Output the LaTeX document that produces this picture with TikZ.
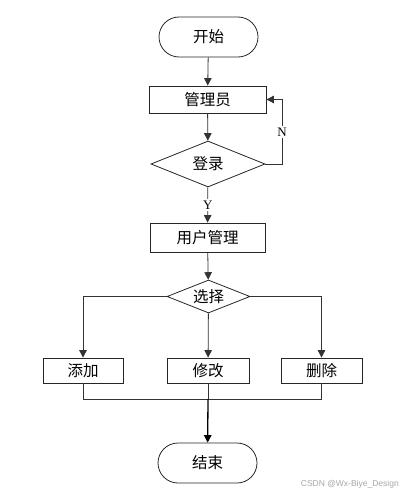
\documentclass[tikz,border=0pt]{standalone}
\usepackage{fontspec}
\setmainfont{Liberation Serif}
\newfontfamily\cjk{Noto Sans CJK SC}
\newfontfamily\wmfont{Liberation Sans}
\usetikzlibrary{shapes.geometric,arrows.meta}
\tikzset{
  base/.style={draw=black!85, line width=0.8pt, font=\cjk\fontsize{15.5}{17}\selectfont, inner sep=0pt},
  term/.style={base, rectangle, rounded corners=20pt, minimum width=99pt, minimum height=40pt},
  box/.style={base, rectangle, minimum height=27pt},
  dia/.style={base, diamond, aspect=2.5},
  conn/.style={draw=black!80, line width=0.8pt},
  arr/.style={conn, -{Triangle[width=7.5pt,length=7.5pt]}},
  lab/.style={fill=white, inner sep=1.5pt, font=\fontsize{13}{15}\selectfont}
}
\begin{document}
\begin{tikzpicture}[x=1pt,y=-1pt]
\useasboundingbox (0,0) rectangle (407,495);
\node[term] (start) at (208.5,37) {开始};
\node[box, minimum width=117pt] (admin) at (207.5,99.5) {管理员};
\node[dia, minimum width=114pt, minimum height=46pt] (login) at (208,164) {登录};
\node[box, minimum width=115pt, minimum height=29pt] (user) at (207.5,237.5) {用户管理};
\node[dia, minimum width=83pt, minimum height=33pt] (sel) at (208.5,296.5) {选择};
\node[box, minimum width=80pt, minimum height=25pt] (add) at (83,370.5) {添加};
\node[box, minimum width=82pt, minimum height=25pt] (mod) at (208,370.5) {修改};
\node[box, minimum width=81pt, minimum height=25pt] (del) at (321.5,370.5) {删除};
\node[term] (end) at (207.5,463) {结束};
\coordinate (nx) at (282,0);
\coordinate (j) at (208,399);
\coordinate (jl) at (83,399);
\coordinate (jr) at (321.5,399);

\draw[arr] (start) -- (admin);
\draw[arr] (admin) -- (login);
\draw[arr] (login.east) -- (login.east -| nx) -- node[lab]{N} (admin.east -| nx) -- (admin.east);
\draw[arr] (login) -- node[lab]{Y} (user);
\draw[arr] (user) -- (sel);
\draw[arr] (sel.west) -| (add.north);
\draw[arr] (sel) -- (mod);
\draw[arr] (sel.east) -| (del.north);
\draw[conn] (add.south) -- (jl) -- (jr) -- (del.south);
\draw[conn] (mod.south) -- (j);
\draw[arr, draw=black, line width=1.3pt] (j) -- (end);
\node[anchor=east, text=black!35, font=\wmfont\fontsize{8.5}{10}\selectfont, inner sep=0pt] (wm) at (399,484) {CSDN @Wx-Biye\_Design};
\end{tikzpicture}
\end{document}
